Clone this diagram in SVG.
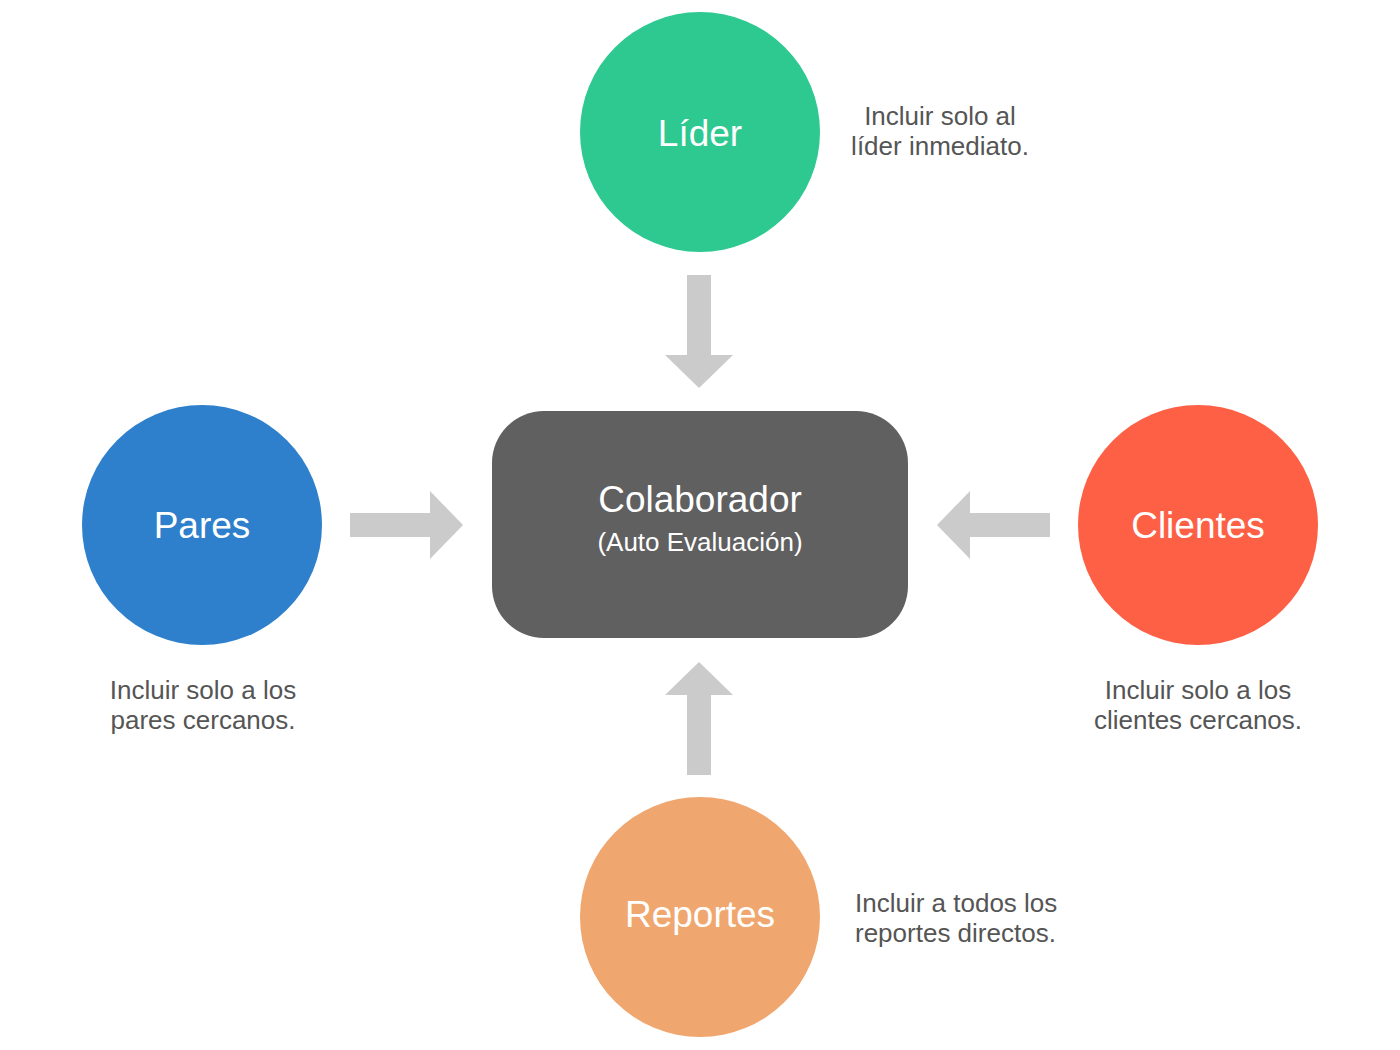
<svg xmlns="http://www.w3.org/2000/svg" width="1400" height="1050" viewBox="0 0 1400 1050">
<style>
.lbl{font-family:"Liberation Sans",Arial,sans-serif;fill:#fff;text-anchor:middle}
.note{font-family:"Liberation Sans",Arial,sans-serif;fill:#555;font-size:26px}
.arr{fill:#cbcbcb}
</style>
<rect width="1400" height="1050" fill="#fff"/>
<g id="connectors">
<polygon class="arr" points="687,275 711,275 711,355 733,355 699,388 665,355 687,355"/>
<polygon class="arr" points="350,513 430,513 430,491 463,525 430,559 430,537 350,537"/>
<polygon class="arr" points="1050,513 970,513 970,491 937,525 970,559 970,537 1050,537"/>
<polygon class="arr" points="687,775 711,775 711,695 733,695 699,662 665,695 687,695"/>
</g>
<g id="lider">
<circle cx="700" cy="132" r="120" fill="#2ec990"/>
<text class="lbl" x="700" y="146" font-size="37">Líder</text>
<text class="note" x="940" y="125" text-anchor="middle">Incluir solo al</text>
<text class="note" x="940" y="155" text-anchor="middle">líder inmediato.</text>
</g>
<g id="pares">
<circle cx="202" cy="525" r="120" fill="#2f80cc"/>
<text class="lbl" x="202" y="538" font-size="37">Pares</text>
<text class="note" x="203" y="699" text-anchor="middle">Incluir solo a los</text>
<text class="note" x="203" y="729" text-anchor="middle">pares cercanos.</text>
</g>
<g id="colaborador">
<rect x="492" y="411" width="416" height="227" rx="52" fill="#606060"/>
<text class="lbl" x="700" y="512" font-size="37">Colaborador</text>
<text class="lbl" x="700" y="551" font-size="26">(Auto Evaluación)</text>
</g>
<g id="clientes">
<circle cx="1198" cy="525" r="120" fill="#fe6046"/>
<text class="lbl" x="1198" y="538" font-size="37">Clientes</text>
<text class="note" x="1198" y="699" text-anchor="middle">Incluir solo a los</text>
<text class="note" x="1198" y="729" text-anchor="middle">clientes cercanos.</text>
</g>
<g id="reportes">
<circle cx="700" cy="917" r="120" fill="#f0a76f"/>
<text class="lbl" x="700" y="927" font-size="37">Reportes</text>
<text class="note" x="855" y="912">Incluir a todos los</text>
<text class="note" x="855" y="942">reportes directos.</text>
</g>
</svg>
